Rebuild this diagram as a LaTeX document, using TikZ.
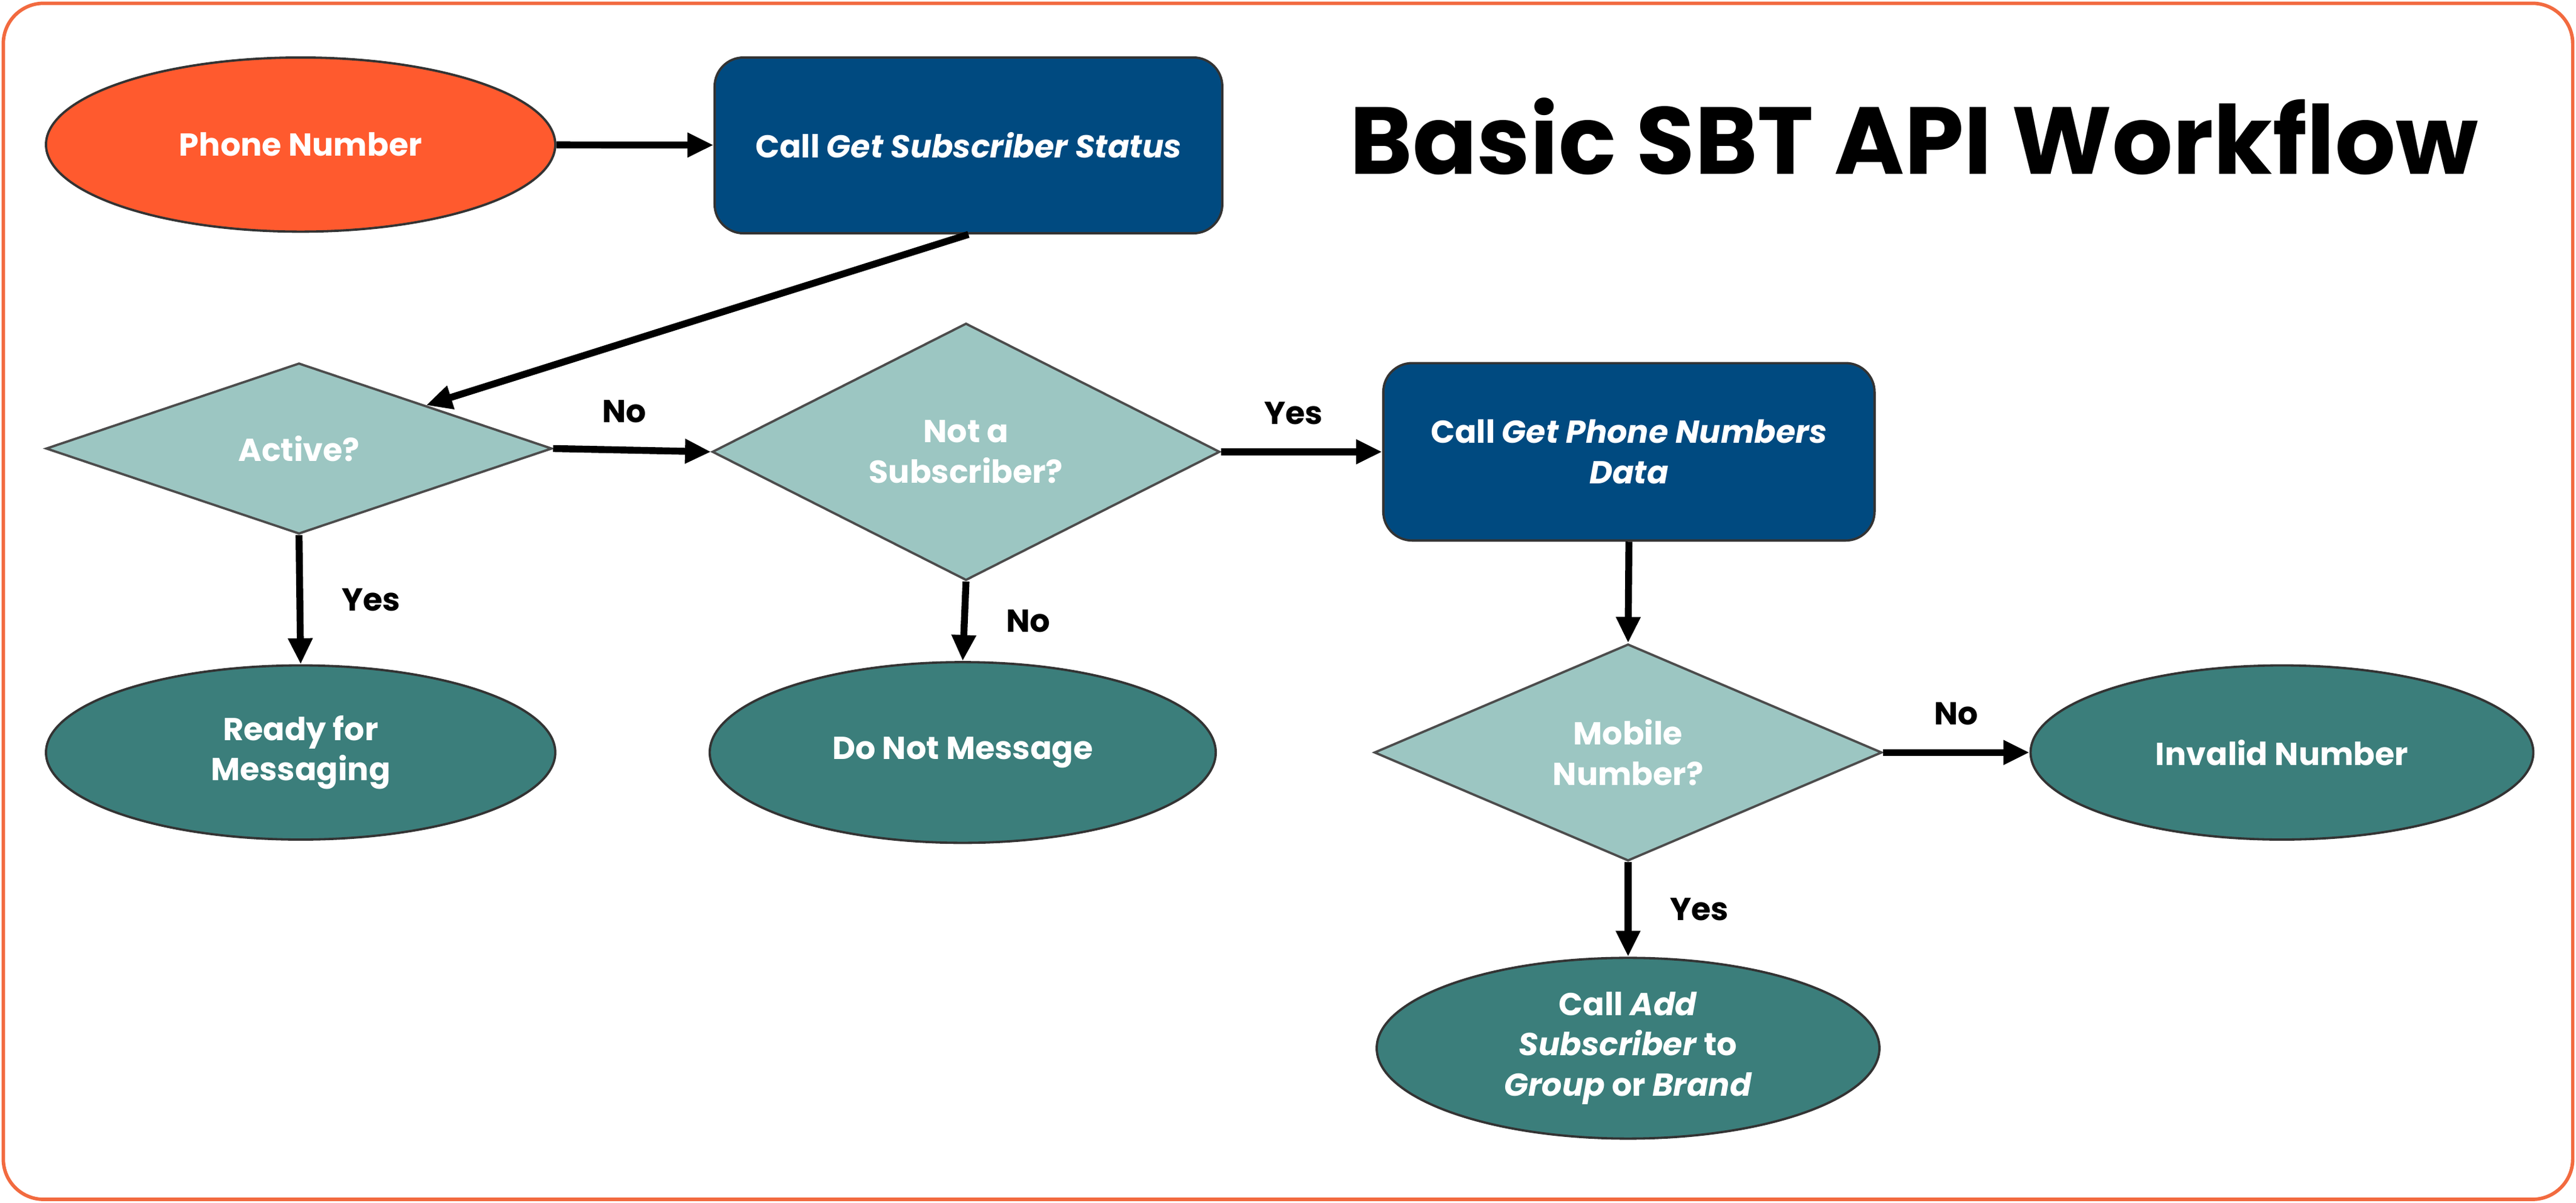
\documentclass[tikz,border=0pt]{standalone}
\usepackage{fontspec}
\setmainfont{Poppins}
\usetikzlibrary{shapes.geometric,arrows.meta}
\definecolor{orng}{HTML}{FF5A2E}
\definecolor{navy}{HTML}{004A80}
\definecolor{lteal}{HTML}{9CC6C2}
\definecolor{dteal}{HTML}{3B7E7B}
\definecolor{bord}{HTML}{F26A3F}
\begin{document}
\begin{tikzpicture}[x=0.02cm,y=-0.02cm,
  txt/.style={text=white,font=\bfseries\fontsize{11}{14}\selectfont,align=center},
  ell/.style={ellipse,draw=black!80,line width=0.8pt,inner sep=0,txt},
  box/.style={rectangle,rounded corners=10pt,draw=black!80,line width=0.8pt,fill=navy,inner sep=0,txt},
  dia/.style={diamond,draw=black!70,line width=0.8pt,fill=lteal,inner sep=0,txt},
  arr/.style={-{Triangle[length=9pt,width=8pt]},line width=2.4pt},
  lab/.style={font=\bfseries\fontsize{11}{13}\selectfont}]
\useasboundingbox (0,0) rectangle (1568,732);
\draw[bord,line width=1.2pt,rounded corners=14pt] (2,2) rectangle (1566,730);
\node[ell,fill=orng,minimum width=310*0.02cm,minimum height=106*0.02cm] (phone) at (183,88) {Phone Number};
\node[box,minimum width=309*0.02cm,minimum height=107*0.02cm] (gss) at (589.5,88.5) {Call \textit{Get Subscriber Status}};
\node[font=\bfseries\fontsize{33}{38}\selectfont] (title) at (1165,83) {Basic SBT API Workflow};
\node[dia,minimum width=308*0.02cm,minimum height=104*0.02cm] (active) at (182,273) {Active?};
\node[dia,minimum width=309*0.02cm,minimum height=106*0.02cm] (notsub) at (588,275) {Not a\\Subscriber?};
\node[box,minimum width=299*0.02cm,minimum height=108*0.02cm] (gpn) at (991.5,275) {Call \textit{Get Phone Numbers}\\\textit{Data}};
\node[ell,fill=dteal,minimum width=310*0.02cm,minimum height=106*0.02cm] (ready) at (183,458) {Ready for\\Messaging};
\node[ell,fill=dteal,minimum width=308*0.02cm,minimum height=110*0.02cm] (dnm) at (586,458) {Do Not Message};
\node[dia,minimum width=309*0.02cm,minimum height=108*0.02cm] (mobile) at (991,458) {Mobile\\Number?};
\node[ell,fill=dteal,minimum width=306*0.02cm,minimum height=106*0.02cm] (invalid) at (1389,458) {Invalid Number};
\node[ell,fill=dteal,minimum width=306*0.02cm,minimum height=110*0.02cm] (add) at (991,638) {Call \textit{Add}\\\textit{Subscriber} to\\\textit{Group} or \textit{Brand}};
\draw[arr] (phone) -- (gss);
\draw[arr] (gss.south) -- (active.north east);
\draw[arr] (active.east) -- (notsub.west) node[lab,pos=0.45,above=5pt] (l1) {No};
\draw[arr] (notsub.east) -- (gpn.west) node[lab,pos=0.45,above=5pt] (l2) {Yes};
\draw[arr] (active.south) -- (ready.north) node[lab,midway,right=10pt] (l3) {Yes};
\draw[arr] (notsub.south) -- (dnm.north) node[lab,midway,right=10pt] (l4) {No};
\draw[arr] (gpn.south) -- (mobile.north);
\draw[arr] (mobile.east) -- (invalid.west) node[lab,pos=0.5,above=5pt] (l5) {No};
\draw[arr] (mobile.south) -- (add.north) node[lab,midway,right=10pt] (l6) {Yes};
\end{tikzpicture}
\end{document}
